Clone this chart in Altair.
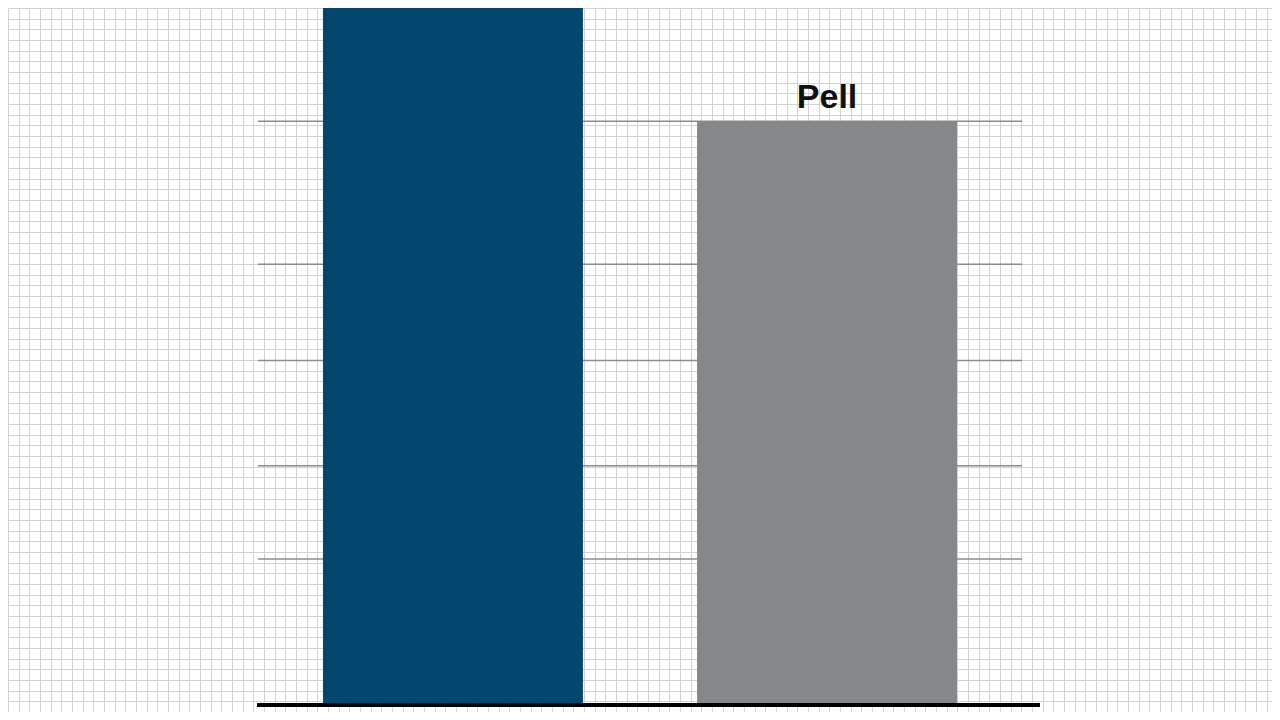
import altair as alt
import pandas as pd

# ---- data ----
categories = ["Total", "Pell"]
values = [140, 100]          # blue bar runs past the top of the view
labels = ["", "Pell"]
colors = ["#03466E", "#85878A"]
grid_values = [25, 41, 59, 75.5, 100]

bars_df = pd.DataFrame({"category": categories, "value": values,
                        "label": labels, "color": colors})
grid_df = pd.DataFrame({"y": grid_values})
base_df = pd.DataFrame({"y": [0]})
paper_df = pd.DataFrame({"px": [0], "py": [0]})

W, H = 1264, 704
YDOM = [-1.2, 119.4]

# graph-paper background drawn through axis grids
paper = alt.Chart(paper_df).mark_point(opacity=0).encode(
    x=alt.X("px:Q", scale=alt.Scale(domain=[0, 118.5], nice=False, zero=False),
            axis=alt.Axis(values=list(range(0, 119)), grid=True, gridColor="#d2d2d2",
                          gridWidth=1, labels=False, ticks=False, domain=False, title=None)),
    y=alt.Y("py:Q", scale=alt.Scale(domain=[0, 66], nice=False, zero=False),
            axis=alt.Axis(values=list(range(0, 67)), grid=True, gridColor="#d2d2d2",
                          gridWidth=1, labels=False, ticks=False, domain=False, title=None)),
)

yscale = alt.Scale(domain=YDOM, nice=False, zero=False)
xscale = alt.Scale(domain=categories, paddingInner=0.305, paddingOuter=0.842, align=0.5)

gridlines = alt.Chart(grid_df).mark_rule(color="#8c8c8c", strokeWidth=1.5).encode(
    y=alt.Y("y:Q", scale=yscale, axis=None),
    x=alt.value(250), x2=alt.value(1014),
)

bars = alt.Chart(bars_df).mark_bar(clip=True).encode(
    x=alt.X("category:N", scale=xscale, axis=None, sort=categories),
    y=alt.Y("value:Q", scale=yscale, axis=None),
    color=alt.Color("color:N", scale=None, legend=None),
)

text = alt.Chart(bars_df).mark_text(
    font="Liberation Sans", fontWeight="bold", fontSize=34, color="#111111",
    baseline="alphabetic", dy=-13,
).encode(
    x=alt.X("category:N", scale=xscale, axis=None, sort=categories),
    y=alt.Y("value:Q", scale=yscale, axis=None),
    text="label:N",
)

baseline = alt.Chart(base_df).mark_rule(color="#000000", strokeWidth=4).encode(
    y=alt.Y("y:Q", scale=yscale, axis=None),
    x=alt.value(249), x2=alt.value(1032),
)

front = alt.layer(gridlines, bars, text, baseline)

chart = alt.layer(paper, front).resolve_scale(x="independent", y="independent").properties(
    width=W, height=H, padding=0, background="white",
    autosize=alt.AutoSizeParams(type="none"),
).configure_view(stroke=None)

chart.save("out.html", embed_options={"renderer": "svg", "actions": False})
